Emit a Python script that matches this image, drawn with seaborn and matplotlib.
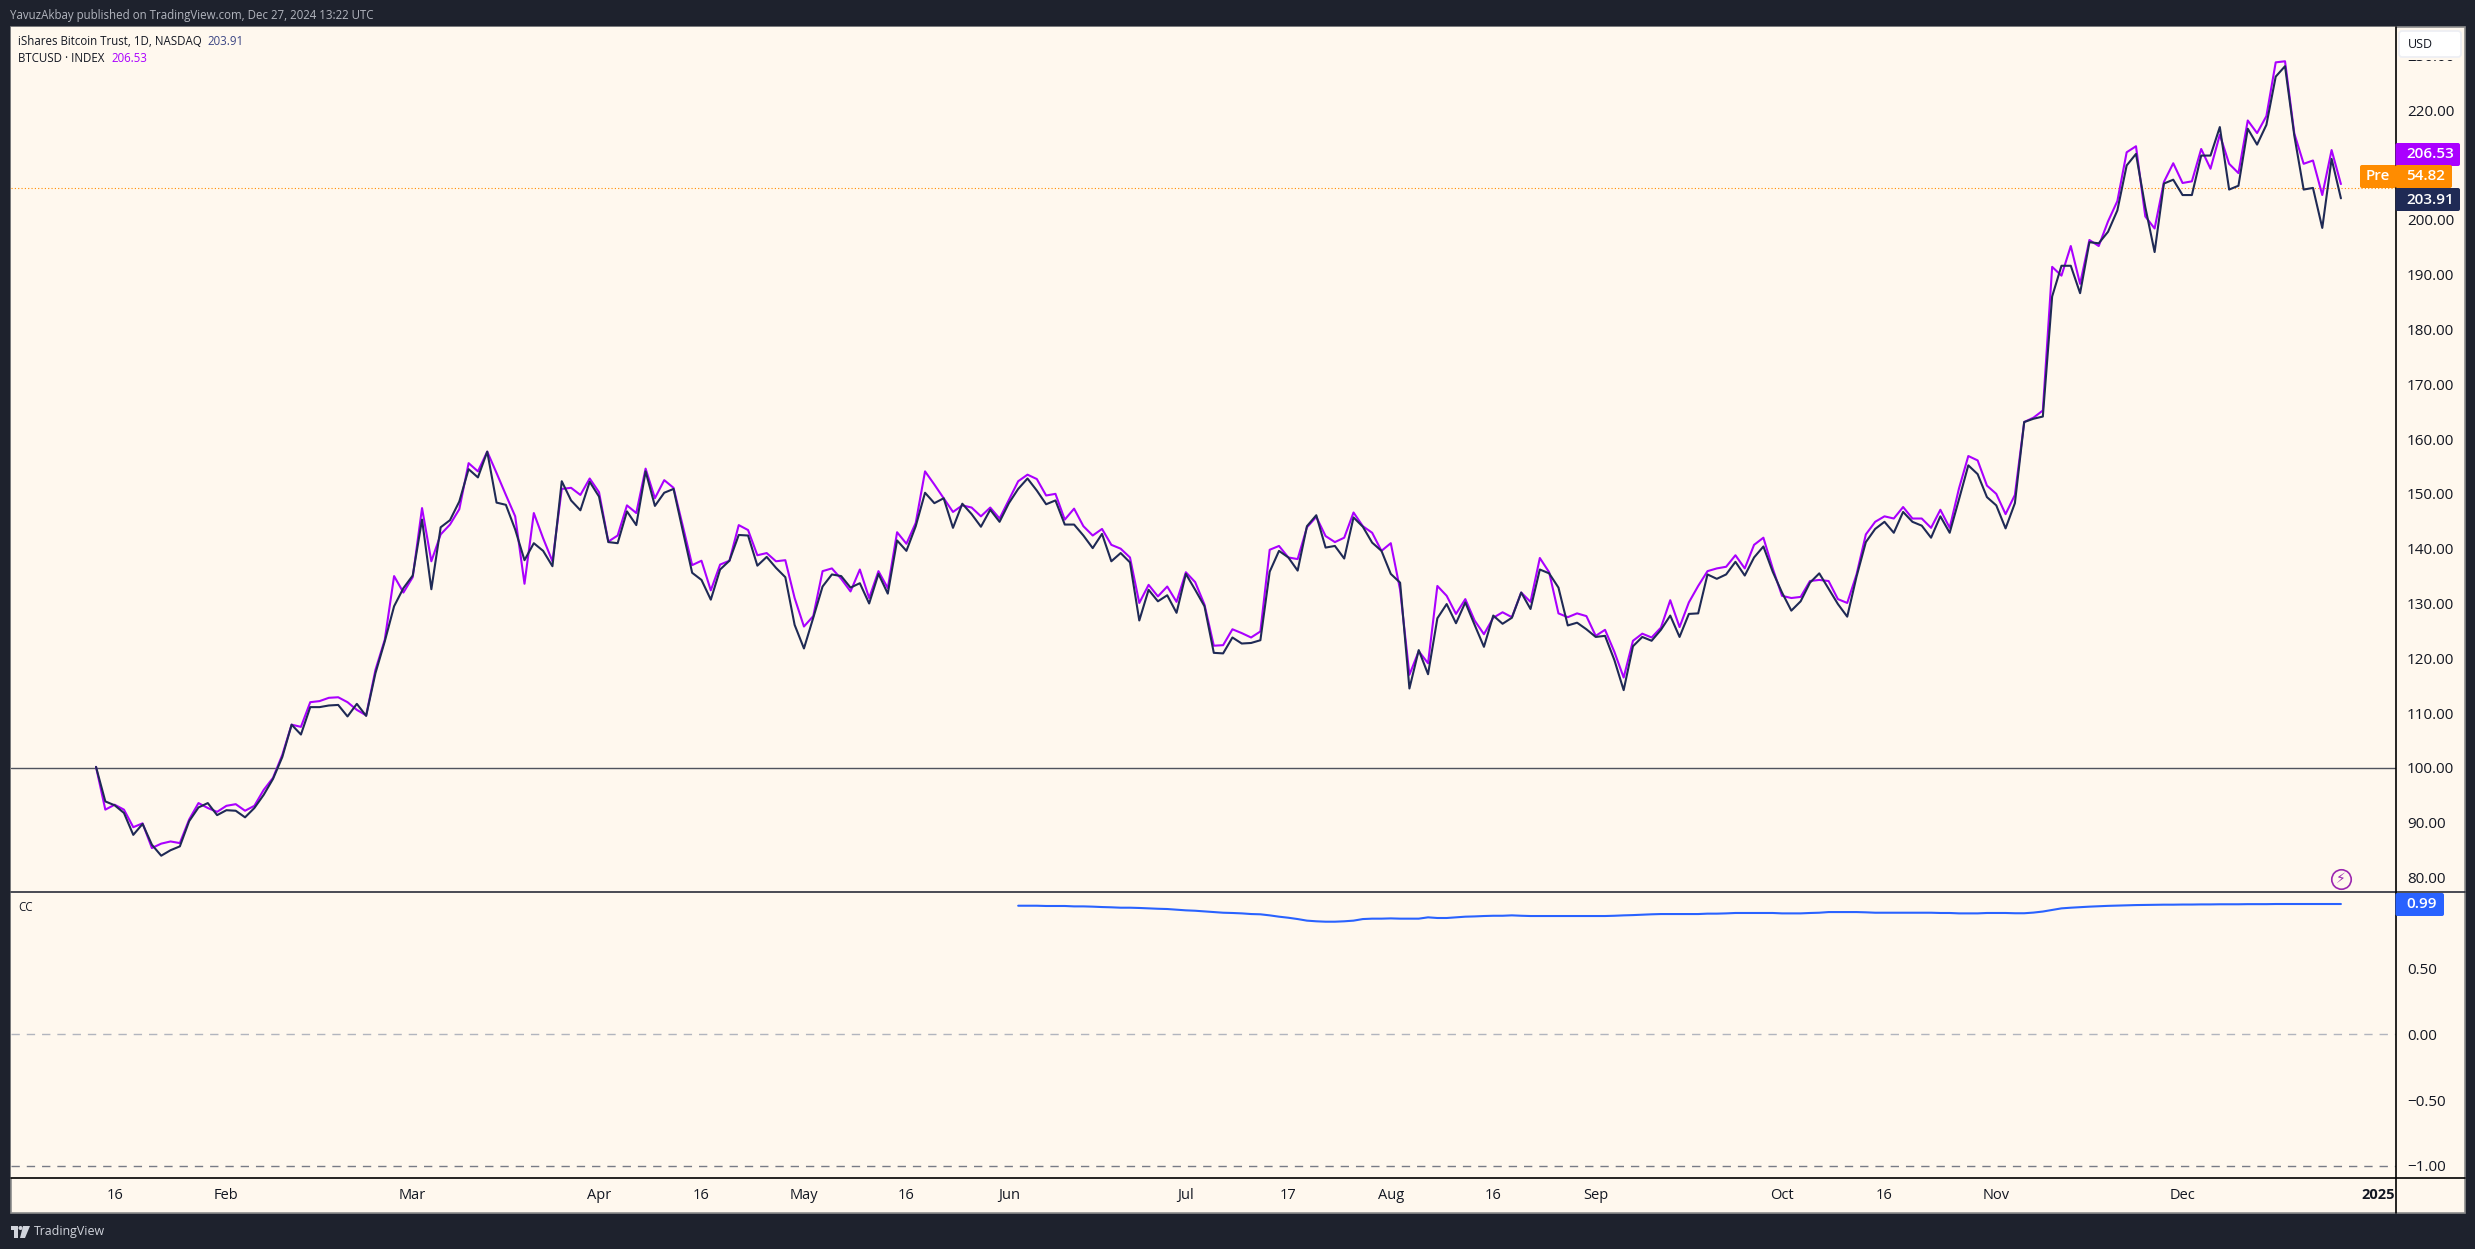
import numpy as np
import pandas as pd
import matplotlib
matplotlib.use("Agg")
import matplotlib.pyplot as plt
import matplotlib.transforms as mtransforms
from matplotlib.lines import Line2D
from matplotlib.patches import Rectangle, FancyBboxPatch, Polygon, Circle
import seaborn as sns

# daily values, one per trading day
ibit = [
    100.2, 93.9, 93.2, 91.8, 87.8, 89.8, 86.0, 84.0, 85.0, 85.7,
    90.3, 92.8, 93.6, 91.4, 92.3, 92.2, 91.0, 92.7, 95.1, 98.0,
    102.0, 107.9, 106.1, 111.1, 111.1, 111.4, 111.5, 109.4, 111.7, 109.5,
    117.3, 123.1, 129.5, 132.8, 135.1, 145.3, 132.6, 143.9, 145.2, 148.6,
    154.5, 153.0, 157.7, 148.4, 148.0, 143.5, 137.9, 141.0, 139.6, 136.8,
    152.3, 148.8, 147.0, 152.2, 149.5, 141.2, 141.0, 146.8, 144.3, 154.1,
    147.8, 150.2, 150.9, 143.2, 135.6, 134.3, 130.7, 136.2, 137.8, 142.5,
    142.4, 136.9, 138.5, 136.5, 134.8, 126.1, 121.8, 127.4, 133.1, 135.3,
    135.0, 132.9, 133.7, 130.0, 135.4, 131.8, 141.5, 139.6, 144.1, 150.2,
    148.3, 149.2, 143.8, 148.2, 146.3, 144.0, 147.1, 144.9, 148.3, 150.9,
    152.8, 150.6, 148.1, 148.8, 144.4, 144.4, 142.4, 140.1, 142.7, 137.7,
    139.2, 137.5, 126.9, 132.5, 130.4, 131.5, 128.3, 135.4, 132.5, 129.5,
    121.0, 120.9, 123.8, 122.7, 122.8, 123.3, 135.8, 139.6, 138.4, 136.0,
    144.1, 146.1, 140.2, 140.5, 138.2, 145.7, 144.0, 141.1, 139.6, 135.4,
    133.8, 114.5, 121.5, 117.1, 127.3, 129.9, 126.4, 130.2, 126.1, 122.1,
    127.8, 126.3, 127.4, 132.0, 129.0, 136.2, 135.5, 132.9, 126.0, 126.5,
    125.3, 123.9, 124.1, 119.7, 114.2, 122.2, 123.9, 123.2, 125.2, 127.8,
    123.9, 128.1, 128.2, 135.3, 134.5, 135.3, 137.6, 135.1, 138.4, 140.4,
    135.8, 132.0, 128.7, 130.4, 133.8, 135.5, 132.7, 129.9, 127.6, 134.9,
    141.2, 143.6, 144.9, 142.9, 146.7, 144.9, 144.2, 142.0, 145.9, 142.9,
    149.0, 155.2, 153.6, 149.4, 147.9, 143.7, 148.3, 163.1, 163.7, 164.1,
    186.0, 191.6, 191.6, 186.6, 195.9, 195.7, 197.8, 201.7, 209.9, 212.0,
    202.3, 194.1, 206.6, 207.3, 204.5, 204.5, 211.7, 211.7, 216.9, 205.5,
    206.2, 216.6, 213.7, 217.3, 226.1, 228.0, 215.3, 205.5, 205.8, 198.5,
    211.1, 203.9,
]
btcusd = [
    100.2, 92.4, 93.3, 92.4, 89.2, 89.9, 85.4, 86.2, 86.6, 86.3,
    90.6, 93.6, 92.7, 92.0, 93.1, 93.4, 92.2, 93.1, 96.0, 98.2,
    102.4, 107.9, 107.5, 112.0, 112.2, 112.8, 112.9, 112.0, 110.6, 109.6,
    117.9, 123.4, 135.0, 132.0, 134.8, 147.4, 137.7, 142.6, 144.4, 147.2,
    155.6, 154.1, 157.7, 153.8, 149.8, 145.9, 133.6, 146.5, 141.9, 137.7,
    150.9, 151.1, 149.8, 152.8, 150.3, 141.3, 142.4, 147.9, 146.5, 154.6,
    149.2, 152.5, 151.1, 144.1, 137.0, 137.8, 132.4, 137.1, 137.8, 144.3,
    143.4, 138.8, 139.2, 137.7, 137.9, 131.0, 125.8, 127.7, 135.9, 136.4,
    134.5, 132.2, 136.2, 131.0, 135.9, 132.8, 143.0, 140.9, 144.7, 154.1,
    151.7, 149.2, 146.7, 147.9, 147.5, 145.9, 147.5, 145.5, 148.9, 152.3,
    153.5, 152.7, 149.7, 150.0, 145.3, 147.3, 144.1, 142.4, 143.6, 140.7,
    140.0, 138.4, 130.1, 133.4, 131.3, 133.1, 130.3, 135.7, 133.9, 129.8,
    122.3, 122.4, 125.3, 124.6, 123.8, 124.9, 139.8, 140.5, 138.4, 138.1,
    143.9, 145.8, 142.3, 141.2, 142.0, 146.6, 144.1, 142.9, 139.6, 141.0,
    132.5, 117.0, 121.3, 119.1, 133.2, 131.4, 128.1, 130.8, 126.9, 124.4,
    127.4, 128.4, 127.5, 132.0, 130.3, 138.3, 135.7, 128.2, 127.5, 128.2,
    127.7, 124.1, 125.2, 121.2, 116.5, 123.2, 124.5, 123.8, 125.6, 130.6,
    125.7, 130.2, 133.2, 135.9, 136.4, 136.7, 138.8, 136.4, 140.7, 142.0,
    136.4, 131.4, 131.0, 131.2, 134.1, 134.3, 134.1, 130.8, 130.1, 135.3,
    142.6, 144.9, 145.9, 145.5, 147.6, 145.5, 145.5, 143.8, 147.1, 143.8,
    151.0, 156.9, 156.1, 151.5, 150.0, 146.3, 149.8, 163.1, 163.9, 165.2,
    191.4, 189.8, 195.2, 188.3, 196.3, 195.2, 199.7, 203.4, 212.3, 213.4,
    200.6, 198.4, 206.9, 210.3, 206.7, 207.0, 212.9, 209.3, 215.5, 210.2,
    208.5, 218.1, 215.8, 218.9, 228.7, 228.9, 215.7, 210.2, 210.8, 204.5,
    212.7, 206.5,
]
# correlation only starts once its window is full
cc_start = 99
cc_values = [
    .972, .972, .972, .970, .970, .970, .967, .967, .965, .962,
    .960, .957, .957, .955, .952, .949, .947, .942, .937, .934,
    .929, .924, .919, .917, .914, .909, .907, .899, .889, .881,
    .871, .859, .854, .851, .851, .854, .859, .871, .874, .874,
    .876, .874, .874, .874, .884, .879, .879, .884, .889, .891,
    .894, .896, .896, .899, .896, .894, .894, .894, .894, .894,
    .894, .894, .894, .894, .896, .899, .901, .904, .907, .909,
    .909, .909, .909, .909, .912, .912, .914, .917, .917, .917,
    .917, .917, .914, .914, .914, .917, .919, .924, .924, .924,
    .924, .922, .919, .919, .919, .919, .919, .919, .919, .917,
    .917, .914, .914, .914, .917, .917, .917, .915, .915, .920,
    .928, .940, .952, .957, .961, .965, .968, .971, .973, .975,
    .977, .978, .979, .980, .980, .981, .981, .982, .982, .983,
    .983, .983, .984, .984, .984, .985, .985, .985, .985, .985,
    .985, .985, .985,
]
# 210 sits under the price tags in the reference, so it gets no label
price_ticks = [80, 90, 100, 110, 120, 130, 140, 150, 160, 170, 180, 190, 200, 220, 230]
cc_ticks = [-1.0, -0.5, 0.0, 0.5]
time_positions = [2, 14, 34, 54, 65, 76, 87, 98, 117, 128, 139, 150, 161, 181, 192, 204, 224, 245]
time_labels = ["16", "Feb", "Mar", "Apr", "16", "May", "16", "Jun", "Jul", "17", "Aug", "16", "Sep", "Oct", "16", "Nov", "Dec", "2025"]
pre_level = 205.8

BG = "#1e222d"
CREAM = "#fff8ee"
PURPLE = "#aa00ff"
NAVY = "#1f2a55"
BLUE = "#2962ff"
ORANGE = "#ff8c00"
TXT = "#131722"

W, H = 2475, 1249
sns.set_theme(style="white")
plt.rcParams["font.family"] = ["Open Sans", "DejaVu Sans"]

fig = plt.figure(figsize=(W / 100, H / 100), dpi=100, facecolor=BG)
# top-left pixel coordinates for all the chrome around the panes
px = mtransforms.Affine2D().scale(1 / W, -1 / H).translate(0, 1) + fig.transFigure


def pane(left, top, right, bottom):
    return fig.add_axes([left / W, 1 - bottom / H, (right - left) / W, (bottom - top) / H])


fig.patches.append(Rectangle((10.5, 27), 2454.5, 1186, transform=px, facecolor=CREAM,
                             edgecolor="#8c8c8c", linewidth=1.2, zorder=-1))

ax = pane(10.5, 27, 2395.5, 892)
ax2 = pane(10.5, 892, 2395.5, 1178)
for a in (ax, ax2):
    a.set_facecolor(CREAM)
    sns.despine(ax=a, left=True, bottom=True, right=True, top=True)

df = pd.DataFrame({"bar": np.arange(len(ibit)), "IBIT": ibit, "BTCUSD": btcusd})
long_df = df.melt(id_vars="bar", var_name="series", value_name="value")
sns.lineplot(data=long_df, x="bar", y="value", hue="series", hue_order=["BTCUSD", "IBIT"],
             palette={"BTCUSD": PURPLE, "IBIT": NAVY}, estimator=None, legend=False,
             linewidth=1.5, ax=ax, zorder=3)
ax.axhline(100, color="#50535e", linewidth=1, zorder=1)
ax.axhline(pre_level, color=ORANGE, linewidth=0.8, linestyle=(0, (1, 2)), zorder=1)
ax.plot([len(ibit) - 1], [79.76], marker="o", markersize=14, markerfacecolor="none",
        markeredgecolor="#9c27b0", markeredgewidth=1.2, zorder=4)
ax.text(len(ibit) - 1, 79.76, "\u26a1", color="#9c27b0", fontsize=10, ha="center", va="center",
        family="DejaVu Sans", zorder=5)

cc_df = pd.DataFrame({"bar": cc_start + np.arange(len(cc_values)), "cc": cc_values})
sns.lineplot(data=cc_df, x="bar", y="cc", color=BLUE, estimator=None, linewidth=1.5, ax=ax2, zorder=3)
ax2.axhline(0, color="#b2b5be", linewidth=1, linestyle=(0, (6, 5)), zorder=1)
ax2.axhline(-1, color="#787b86", linewidth=1, linestyle=(0, (6, 5)), zorder=1)

ax.set_xlim(-9.18, 246.86)
ax2.set_xlim(-9.18, 246.86)
ax.set_ylim(77.38, 235.15)
ax2.set_ylim(-1.091, 1.076)

ax.yaxis.tick_right()
ax.set_yticks(price_ticks)
ax.set_yticklabels([f"{v:.2f}" for v in price_ticks])
ax.set_xticks([])
ax2.yaxis.tick_right()
ax2.set_yticks(cc_ticks)
ax2.set_yticklabels([f"{v:.2f}".replace("-", "\u2212") for v in cc_ticks])
ax2.set_xticks(time_positions)
ax2.set_xticklabels(time_labels)
for a in (ax, ax2):
    a.set_xlabel("")
    a.set_ylabel("")
    a.tick_params(axis="y", length=0, pad=8.3, labelsize=11, labelcolor=TXT)
ax2.tick_params(axis="x", length=0, pad=7, labelsize=10.5, labelcolor=TXT)
ax2.get_xticklabels()[-1].set_fontweight("bold")

# pane separators
for x0, y0, x1, y1, col in [(10.5, 892, 2465, 892, "#2a2e39"),
                            (10.5, 1178, 2465, 1178, "#000000"),
                            (2395.5, 27, 2395.5, 1213, "#000000")]:
    fig.add_artist(Line2D([x0, x1], [y0, y1], transform=px, color=col, linewidth=1.2, zorder=3))


def tag(x0, y0, x1, y1, col, label=None, tx=None):
    fig.patches.append(FancyBboxPatch((x0, y0), x1 - x0, y1 - y0, boxstyle="round,pad=0,rounding_size=2",
                                      transform=px, facecolor=col, edgecolor="none", zorder=4))
    if label:
        fig.text(tx, (y0 + y1) / 2, label, transform=px, color="white", fontsize=11, fontweight="semibold",
                 ha="left", va="center", zorder=5)


# USD button hides most of the 230 label, only its bottom edge peeks out
fig.patches.append(Rectangle((2397, 28), 67, 31.5, transform=px, facecolor=CREAM, edgecolor="none", zorder=3.5))
fig.patches.append(FancyBboxPatch((2399, 31), 62, 26, boxstyle="round,pad=0,rounding_size=3", transform=px,
                                  facecolor="white", edgecolor="#eceef4", linewidth=1.2, zorder=4))
fig.text(2408, 44.5, "USD", transform=px, color=TXT, fontsize=9, ha="left", va="center", zorder=5)

tag(2395.5, 143, 2460, 166, PURPLE, "206.53", 2406)
tag(2360, 165, 2396, 188, ORANGE, "Pre", 2366)
tag(2395.5, 165, 2452, 188, ORANGE, "54.82", 2406)
tag(2395.5, 188, 2460, 211, NAVY, "203.91", 2406)
tag(2395.5, 893, 2444, 916, BLUE, "0.99", 2406)

small = 8.3
fig.text(10, 15, "YavuzAkbay published on TradingView.com, Dec 27, 2024 13:22 UTC", transform=px,
         color="#b2b5be", fontsize=small, ha="left", va="center")
fig.text(18, 41.5, "iShares Bitcoin Trust, 1D, NASDAQ", transform=px, color=TXT, fontsize=small, ha="left", va="center")
fig.text(207, 41.5, "203.91", transform=px, color="#3c4684", fontsize=small, ha="left", va="center")
fig.text(18, 58.5, "BTCUSD \u00b7 INDEX", transform=px, color=TXT, fontsize=small, ha="left", va="center")
fig.text(111, 58.5, "206.53", transform=px, color=PURPLE, fontsize=small, ha="left", va="center")
fig.text(18, 908, "CC", transform=px, color=TXT, fontsize=small, ha="left", va="center")

# TradingView mark in the footer
logo = "#d1d4dc"
fig.patches.append(Polygon([(11, 1226), (18, 1226), (18, 1238), (14, 1238), (14, 1230), (11, 1230)],
                           transform=px, facecolor=logo, edgecolor="none"))
fig.patches.append(Circle((20.5, 1228), 2, transform=px, facecolor=logo, edgecolor="none"))
fig.patches.append(Polygon([(23, 1226), (30, 1226), (25, 1238), (20, 1238)], transform=px,
                           facecolor=logo, edgecolor="none"))
fig.text(34, 1232, "TradingView", transform=px, color=logo, fontsize=8.9, ha="left", va="center")

fig.savefig("out.png", dpi=100, facecolor=BG)
